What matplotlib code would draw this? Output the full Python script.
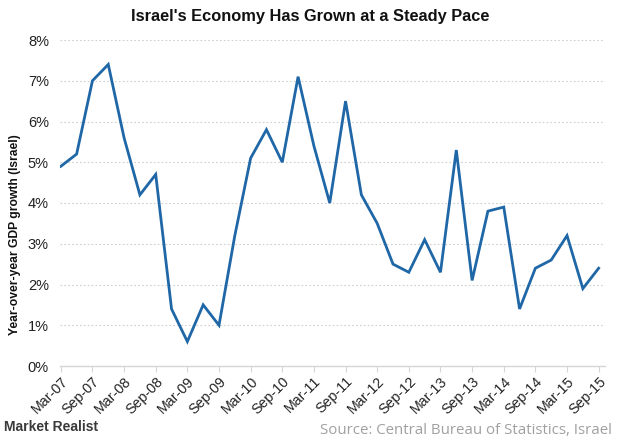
import matplotlib
matplotlib.use("Agg")
import matplotlib.pyplot as plt
from matplotlib.ticker import FuncFormatter

plt.rcParams['font.family'] = ['Liberation Sans', 'DejaVu Sans']

quarters = ["Mar-07", "Jun-07", "Sep-07", "Dec-07", "Mar-08", "Jun-08", "Sep-08", "Dec-08",
            "Mar-09", "Jun-09", "Sep-09", "Dec-09", "Mar-10", "Jun-10", "Sep-10", "Dec-10",
            "Mar-11", "Jun-11", "Sep-11", "Dec-11", "Mar-12", "Jun-12", "Sep-12", "Dec-12",
            "Mar-13", "Jun-13", "Sep-13", "Dec-13", "Mar-14", "Jun-14", "Sep-14", "Dec-14",
            "Mar-15", "Jun-15", "Sep-15"]
gdp_growth = [4.9, 5.2, 7.0, 7.4, 5.6, 4.2, 4.7, 1.4,
              0.6, 1.5, 1.0, 3.2, 5.1, 5.8, 5.0, 7.1,
              5.4, 4.0, 6.5, 4.2, 3.5, 2.5, 2.3, 3.1,
              2.3, 5.3, 2.1, 3.8, 3.9, 1.4, 2.4, 2.6,
              3.2, 1.9, 2.4]
yticks = [0, 1, 2, 3, 4, 5, 6, 7, 8]

fig = plt.figure(figsize=(6.2, 4.43), dpi=100)
ax = fig.add_axes([60/620, 1 - 366/443, 545/620, 326/443])

x = list(range(len(quarters)))
ax.plot(x, gdp_growth, color='#1f67a6', linewidth=2.0, solid_joinstyle='miter')

ax.set_ylim(0, 8)
ax.set_xlim(-0.05, 34.4)
ax.set_yticks(yticks)
ax.yaxis.set_major_formatter(FuncFormatter(lambda v, p: f"{int(v)}%"))
ax.set_xticks(x[::2])
ax.set_xticklabels(quarters[::2], rotation=45, ha='right', rotation_mode='anchor')

ax.grid(axis='y', color='#cfcfcf', linestyle=(0, (1.5, 2)), linewidth=0.8)
ax.set_axisbelow(True)
for s in ['top', 'right', 'left']:
    ax.spines[s].set_visible(False)
ax.spines['bottom'].set_color('#d6d6d6')
ax.spines['bottom'].set_linewidth(1.0)
ax.tick_params(axis='y', length=0, labelsize=10.5, colors='#222222', pad=8)
ax.tick_params(axis='x', length=4, color='#d6d6d6', labelsize=10.3, colors='#222222', pad=2)

fig.text(15/620, 1 - 235/443, "Year-over-year GDP growth (Israel)", rotation=90, ha='center', va='center',
         fontsize=8.7, fontweight='bold', color='#111111')

fig.text(0.5, 1 - 17/443, "Israel's Economy Has Grown at a Steady Pace", ha='center', va='center',
         fontsize=11.8, fontweight='bold', color='#111111')
fig.text(4/620, 1 - 427/443, "Market Realist", ha='left', va='center', fontsize=10,
         fontweight='bold', color='#3a3a3a')
fig.text(612/620, 1 - 431/443, "Source: Central Bureau of Statistics, Israel", ha='right', va='center',
         fontsize=10.8, color='#a0a0a0', family=['Open Sans', 'DejaVu Sans'])

fig.savefig("out.png", dpi=100)
